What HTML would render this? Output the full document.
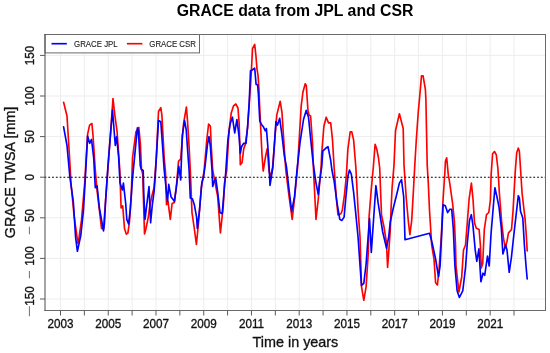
<!DOCTYPE html><html><head><meta charset="utf-8"><style>html,body{margin:0;padding:0;background:#fff;}svg{display:block;}text{font-family:"Liberation Sans",Arial,sans-serif;}.t{stroke:#111;stroke-width:0.3;}</style></head><body>
<svg width="550" height="353" viewBox="0 0 550 353">
<rect width="550" height="353" fill="#fff"/>
<g stroke="#ededed" stroke-width="1" fill="none"><line x1="60.50" y1="34.5" x2="60.50" y2="310.5"/><line x1="84.37" y1="34.5" x2="84.37" y2="310.5"/><line x1="108.24" y1="34.5" x2="108.24" y2="310.5"/><line x1="132.11" y1="34.5" x2="132.11" y2="310.5"/><line x1="155.98" y1="34.5" x2="155.98" y2="310.5"/><line x1="179.85" y1="34.5" x2="179.85" y2="310.5"/><line x1="203.72" y1="34.5" x2="203.72" y2="310.5"/><line x1="227.59" y1="34.5" x2="227.59" y2="310.5"/><line x1="251.46" y1="34.5" x2="251.46" y2="310.5"/><line x1="275.33" y1="34.5" x2="275.33" y2="310.5"/><line x1="299.20" y1="34.5" x2="299.20" y2="310.5"/><line x1="323.07" y1="34.5" x2="323.07" y2="310.5"/><line x1="346.94" y1="34.5" x2="346.94" y2="310.5"/><line x1="370.81" y1="34.5" x2="370.81" y2="310.5"/><line x1="394.68" y1="34.5" x2="394.68" y2="310.5"/><line x1="418.55" y1="34.5" x2="418.55" y2="310.5"/><line x1="442.42" y1="34.5" x2="442.42" y2="310.5"/><line x1="466.29" y1="34.5" x2="466.29" y2="310.5"/><line x1="490.16" y1="34.5" x2="490.16" y2="310.5"/><line x1="514.03" y1="34.5" x2="514.03" y2="310.5"/><line x1="45.0" y1="299.00" x2="545.5" y2="299.00"/><line x1="45.0" y1="258.40" x2="545.5" y2="258.40"/><line x1="45.0" y1="217.80" x2="545.5" y2="217.80"/><line x1="45.0" y1="136.60" x2="545.5" y2="136.60"/><line x1="45.0" y1="96.00" x2="545.5" y2="96.00"/><line x1="45.0" y1="55.40" x2="545.5" y2="55.40"/></g>
<polyline points="63.6,102.3 67.0,116.0 70.0,165.0 71.0,183.0 74.0,215.0 77.9,243.3 79.0,237.7 81.5,220.0 84.7,183.0 85.8,165.0 87.6,134.2 89.6,125.1 91.9,123.5 93.0,135.3 95.3,170.0 97.0,190.0 101.5,228.5 103.5,229.0 105.7,199.0 108.0,168.0 113.0,98.6 114.8,114.9 117.0,130.8 119.8,170.0 121.1,208.0 122.7,205.8 124.5,228.5 126.3,234.1 127.9,233.1 129.5,221.7 131.3,194.5 132.5,158.0 135.9,132.0 138.8,127.4 140.4,144.4 141.5,169.3 142.7,174.0 144.5,234.0 146.0,228.5 148.3,217.1 149.5,208.0 151.7,196.7 154.0,187.7 156.3,158.0 158.5,111.5 160.8,107.7 161.9,115.0 164.2,158.0 165.5,172.0 166.5,204.7 168.0,201.3 170.3,219.4 172.1,203.5 174.4,202.4 176.7,183.1 178.5,161.4 180.7,159.0 183.5,124.0 186.4,107.0 187.5,120.6 189.1,146.7 190.3,170.0 192.0,212.6 194.3,228.5 196.4,244.5 198.4,224.0 201.3,187.7 203.6,174.0 204.2,170.0 206.8,139.9 208.6,124.0 210.4,126.3 211.3,146.7 212.7,170.0 217.7,196.7 220.4,233.0 223.3,205.8 224.5,183.1 226.7,170.0 229.0,130.8 231.3,112.7 233.5,105.9 235.8,104.0 238.0,108.1 239.2,124.0 240.3,164.8 242.1,162.5 243.7,148.9 245.3,144.4 247.6,128.0 249.5,100.0 251.3,72.5 252.5,48.7 254.7,44.4 255.9,55.5 257.0,69.1 258.1,75.9 259.0,90.0 259.4,101.2 260.5,123.9 262.0,155.0 263.2,171.0 265.7,155.7 267.1,148.9 268.0,158.0 269.1,171.8 270.7,176.3 272.5,168.0 276.8,114.9 280.2,101.3 282.0,112.7 284.3,148.9 285.8,170.0 288.8,194.5 292.2,219.4 294.5,199.0 297.5,168.0 301.2,105.9 302.9,92.3 305.2,83.8 306.3,85.5 307.2,99.1 308.0,111.0 309.2,115.2 310.6,116.0 312.6,144.4 313.5,170.0 316.0,219.4 318.3,199.0 321.2,165.0 321.7,153.5 323.9,126.3 326.2,117.2 328.5,122.9 330.7,122.9 332.5,139.9 334.1,167.0 336.4,199.0 338.0,214.9 340.9,213.7 342.3,210.3 344.5,194.5 346.3,176.3 347.9,148.9 350.2,131.9 351.8,131.9 353.6,139.9 355.9,168.0 358.1,210.3 360.0,236.7 361.5,286.7 363.8,300.3 366.1,286.7 368.3,252.7 369.1,216.3 371.3,189.0 373.5,165.0 375.1,144.4 376.7,148.9 378.5,158.0 379.7,168.0 381.5,215.0 384.0,227.0 386.5,243.0 387.6,267.4 388.7,252.7 390.3,230.0 391.0,210.3 392.1,187.7 394.0,165.0 395.5,130.8 399.4,113.8 403.2,128.5 404.0,165.0 406.3,199.0 408.5,223.0 409.9,234.7 411.7,220.5 413.4,191.0 414.8,165.0 416.3,140.0 418.2,112.7 419.3,100.8 421.5,75.9 423.1,75.9 425.4,89.5 425.9,100.0 426.7,140.0 427.2,165.0 428.3,183.1 429.5,210.3 431.7,245.0 434.0,259.0 435.6,282.8 437.4,285.0 439.0,270.3 441.3,236.3 443.1,199.0 444.9,171.8 445.4,161.2 446.7,157.8 448.3,174.8 449.4,180.9 451.0,192.2 452.6,203.5 454.4,221.7 455.5,245.0 456.0,265.8 458.9,292.0 461.7,277.0 463.5,250.0 465.5,245.0 467.3,222.7 469.1,199.0 471.4,183.1 473.0,199.0 474.5,222.7 476.3,228.3 479.1,229.5 480.4,245.3 481.3,268.0 482.7,263.5 484.3,229.5 486.5,214.7 488.8,212.5 490.4,200.0 491.1,175.3 492.6,153.8 494.5,151.5 496.3,154.9 497.9,168.5 499.4,193.5 501.7,222.7 503.5,238.5 505.3,247.6 506.9,241.9 508.5,232.9 511.5,229.5 513.0,211.3 515.3,170.8 516.7,152.7 518.3,148.1 519.4,151.5 520.5,168.5 522.1,193.5 525.0,218.1 526.2,234.0 527.2,250.9" fill="none" stroke="#ff0000" stroke-width="1.65" stroke-linejoin="round" stroke-linecap="round"/>
<polyline points="63.6,126.8 67.0,145.5 69.9,177.5 73.3,201.3 75.6,237.5 77.4,251.3 80.8,235.4 83.5,210.0 85.3,178.6 87.6,136.0 89.6,143.3 91.5,139.4 93.7,158.0 95.3,187.7 97.1,185.8 99.4,208.0 103.5,230.9 104.4,224.0 105.7,199.0 108.0,165.0 112.5,110.0 115.3,145.5 116.6,136.5 118.7,158.0 120.0,183.1 122.3,190.0 123.4,183.1 125.7,203.5 126.8,219.4 128.6,223.9 130.2,210.3 132.5,178.6 137.4,127.8 138.4,131.0 140.3,166.0 141.4,169.5 143.2,170.5 143.8,194.5 145.0,219.4 147.2,201.3 149.0,186.5 150.6,222.8 152.2,205.8 154.0,192.2 155.1,178.6 158.5,120.6 160.8,121.7 162.6,146.7 164.2,170.0 166.5,192.2 167.6,201.3 168.7,184.3 171.0,196.7 174.4,201.3 176.3,188.0 178.8,166.4 180.7,180.0 182.3,135.3 184.6,120.6 186.2,129.7 188.0,155.7 189.1,170.0 190.3,197.9 192.5,199.0 194.3,204.7 196.6,217.1 197.3,228.5 199.5,210.3 201.8,183.1 203.6,176.3 205.2,165.0 207.5,144.4 209.0,136.5 210.4,146.7 212.0,170.0 212.7,186.5 214.3,180.9 215.8,178.6 217.7,192.2 220.0,212.6 222.2,213.7 224.0,192.2 225.6,174.0 227.9,139.9 230.1,124.0 232.4,117.2 234.7,133.0 236.9,119.5 239.2,137.6 240.3,153.5 241.5,146.7 243.7,143.3 246.0,143.3 247.6,126.3 249.2,102.7 250.5,70.8 252.2,70.0 254.7,68.2 256.1,84.4 257.6,84.7 258.4,94.2 259.8,121.0 261.2,123.9 263.3,126.7 265.3,130.8 266.4,128.5 267.5,142.1 268.7,158.0 270.0,185.4 272.9,167.0 275.9,121.7 277.5,125.1 279.7,118.3 282.0,135.3 284.3,155.7 286.5,167.0 288.8,187.7 291.7,211.5 294.5,196.7 297.2,168.0 300.1,142.1 303.5,119.5 306.2,110.4 308.5,117.2 310.3,135.3 312.6,158.0 313.7,167.0 316.0,183.1 318.3,194.5 319.4,183.1 321.7,167.0 322.8,151.2 326.2,147.8 328.0,146.7 330.7,160.3 331.9,170.0 334.1,180.9 337.1,203.5 339.8,219.4 341.8,220.5 344.1,217.1 345.7,199.0 347.9,176.3 349.5,170.0 351.3,174.0 353.6,192.2 355.9,214.9 358.1,237.5 360.4,270.8 361.5,285.5 363.8,283.3 366.1,264.0 369.5,218.5 371.3,252.5 375.9,185.7 378.1,202.7 382.7,232.0 386.5,248.1 388.7,236.8 390.3,221.7 393.3,208.0 396.7,194.5 399.4,183.1 401.5,179.7 403.7,197.0 405.0,239.8 429.5,233.3 432.2,243.1 435.6,259.0 438.5,276.7 440.1,265.8 443.1,204.7 445.3,205.8 447.6,212.6 449.9,209.2 451.7,209.2 453.3,228.5 454.9,265.8 457.1,290.7 459.4,297.5 462.8,290.7 465.6,266.8 467.3,243.0 469.5,220.4 471.3,214.7 472.9,224.9 475.2,249.9 476.8,261.3 478.9,248.8 480.9,281.7 483.0,273.2 484.7,275.3 487.5,256.0 489.2,266.0 491.1,233.0 493.3,206.8 494.9,187.8 496.7,195.7 499.0,207.0 501.3,228.0 502.9,254.0 505.6,245.0 507.0,250.0 509.2,272.3 511.4,257.5 513.6,237.0 516.0,215.9 518.3,195.7 519.4,198.0 520.5,211.3 522.8,218.1 524.4,245.3 526.2,268.0 527.2,279.0" fill="none" stroke="#0000ff" stroke-width="1.65" stroke-linejoin="round" stroke-linecap="round"/>
<line x1="44.5" y1="177.20" x2="545.5" y2="177.20" stroke="#000" stroke-width="1.1" stroke-dasharray="1.8,1.989"/>
<rect x="45.0" y="34.5" width="154.5" height="18.4" fill="#fff" stroke="#6a6a6a" stroke-width="1.0"/>
<line x1="51.5" y1="43.7" x2="66.8" y2="43.7" stroke="#0000ff" stroke-width="1.65"/>
<line x1="126.9" y1="43.7" x2="142.4" y2="43.7" stroke="#ff0000" stroke-width="1.65"/>
<text transform="translate(74.1,46.8) scale(1,1.2)" font-size="7.85" style="stroke:#222;stroke-width:0.1" fill="#222">GRACE JPL</text>
<text transform="translate(149.3,46.8) scale(1,1.2)" font-size="7.85" style="stroke:#222;stroke-width:0.1" fill="#222">GRACE CSR</text>
<g stroke="#6a6a6a" stroke-width="1.0" fill="none" stroke-linecap="square">
<line x1="45.0" y1="34.5" x2="545.5" y2="34.5"/>
<line x1="45.0" y1="310.5" x2="545.5" y2="310.5"/>
<line x1="545.5" y1="34.5" x2="545.5" y2="310.5"/>
<line x1="45.0" y1="34.5" x2="45.0" y2="310.5" stroke="#4a4a4a"/>
</g>
<g stroke="#5a5a5a" stroke-width="1.0"><line x1="60.50" y1="310.5" x2="60.50" y2="315.5"/><line x1="84.37" y1="310.5" x2="84.37" y2="315.5"/><line x1="108.24" y1="310.5" x2="108.24" y2="315.5"/><line x1="132.11" y1="310.5" x2="132.11" y2="315.5"/><line x1="155.98" y1="310.5" x2="155.98" y2="315.5"/><line x1="179.85" y1="310.5" x2="179.85" y2="315.5"/><line x1="203.72" y1="310.5" x2="203.72" y2="315.5"/><line x1="227.59" y1="310.5" x2="227.59" y2="315.5"/><line x1="251.46" y1="310.5" x2="251.46" y2="315.5"/><line x1="275.33" y1="310.5" x2="275.33" y2="315.5"/><line x1="299.20" y1="310.5" x2="299.20" y2="315.5"/><line x1="323.07" y1="310.5" x2="323.07" y2="315.5"/><line x1="346.94" y1="310.5" x2="346.94" y2="315.5"/><line x1="370.81" y1="310.5" x2="370.81" y2="315.5"/><line x1="394.68" y1="310.5" x2="394.68" y2="315.5"/><line x1="418.55" y1="310.5" x2="418.55" y2="315.5"/><line x1="442.42" y1="310.5" x2="442.42" y2="315.5"/><line x1="466.29" y1="310.5" x2="466.29" y2="315.5"/><line x1="490.16" y1="310.5" x2="490.16" y2="315.5"/><line x1="514.03" y1="310.5" x2="514.03" y2="315.5"/><line x1="40.0" y1="299.00" x2="45.0" y2="299.00"/><line x1="40.0" y1="258.40" x2="45.0" y2="258.40"/><line x1="40.0" y1="217.80" x2="45.0" y2="217.80"/><line x1="40.0" y1="177.20" x2="45.0" y2="177.20"/><line x1="40.0" y1="136.60" x2="45.0" y2="136.60"/><line x1="40.0" y1="96.00" x2="45.0" y2="96.00"/><line x1="40.0" y1="55.40" x2="45.0" y2="55.40"/></g>
<text transform="translate(60.50,327.8) scale(1,1.13)" font-size="11.7" text-anchor="middle" class="t" fill="#111">2003</text>
<text transform="translate(108.24,327.8) scale(1,1.13)" font-size="11.7" text-anchor="middle" class="t" fill="#111">2005</text>
<text transform="translate(155.98,327.8) scale(1,1.13)" font-size="11.7" text-anchor="middle" class="t" fill="#111">2007</text>
<text transform="translate(203.72,327.8) scale(1,1.13)" font-size="11.7" text-anchor="middle" class="t" fill="#111">2009</text>
<text transform="translate(251.46,327.8) scale(1,1.13)" font-size="11.7" text-anchor="middle" class="t" fill="#111">2011</text>
<text transform="translate(299.20,327.8) scale(1,1.13)" font-size="11.7" text-anchor="middle" class="t" fill="#111">2013</text>
<text transform="translate(346.94,327.8) scale(1,1.13)" font-size="11.7" text-anchor="middle" class="t" fill="#111">2015</text>
<text transform="translate(394.68,327.8) scale(1,1.13)" font-size="11.7" text-anchor="middle" class="t" fill="#111">2017</text>
<text transform="translate(442.42,327.8) scale(1,1.13)" font-size="11.7" text-anchor="middle" class="t" fill="#111">2019</text>
<text transform="translate(490.16,327.8) scale(1,1.13)" font-size="11.7" text-anchor="middle" class="t" fill="#111">2021</text>
<text transform="translate(34.0,296.00) rotate(-90) scale(1,1.13)" font-size="11.7" text-anchor="middle" class="t" fill="#111">150</text>
<text transform="translate(33.0,317.05) rotate(-90) scale(1.756,1)" font-size="11.7" fill="#555">&#8722;</text>
<text transform="translate(34.0,255.90) rotate(-90) scale(1,1.13)" font-size="11.7" text-anchor="middle" class="t" fill="#111">100</text>
<text transform="translate(33.0,278.74) rotate(-90) scale(1.286,1)" font-size="11.7" fill="#555">&#8722;</text>
<text transform="translate(34.0,215.45) rotate(-90) scale(1,1.13)" font-size="11.7" text-anchor="middle" class="t" fill="#111">50</text>
<text transform="translate(33.0,234.77) rotate(-90) scale(1.322,1)" font-size="11.7" fill="#555">&#8722;</text>
<text transform="translate(34.0,177.20) rotate(-90) scale(1,1.13)" font-size="11.7" text-anchor="middle" class="t" fill="#111">0</text>
<text transform="translate(34.0,136.60) rotate(-90) scale(1,1.13)" font-size="11.7" text-anchor="middle" class="t" fill="#111">50</text>
<text transform="translate(34.0,96.00) rotate(-90) scale(1,1.13)" font-size="11.7" text-anchor="middle" class="t" fill="#111">100</text>
<text transform="translate(34.0,55.40) rotate(-90) scale(1,1.13)" font-size="11.7" text-anchor="middle" class="t" fill="#111">150</text>
<text x="295.1" y="16.3" font-size="15.8" font-weight="bold" text-anchor="middle" fill="#000">GRACE data from JPL and CSR</text>
<text transform="translate(295.4,346.8) scale(1,1.05)" font-size="14.4" text-anchor="middle" class="t" fill="#111">Time in years</text>
<text transform="translate(14.9,172.45) rotate(-90) scale(1,1.05)" font-size="14.4" text-anchor="middle" class="t" fill="#111">GRACE TWSA [mm]</text>
</svg></body></html>
